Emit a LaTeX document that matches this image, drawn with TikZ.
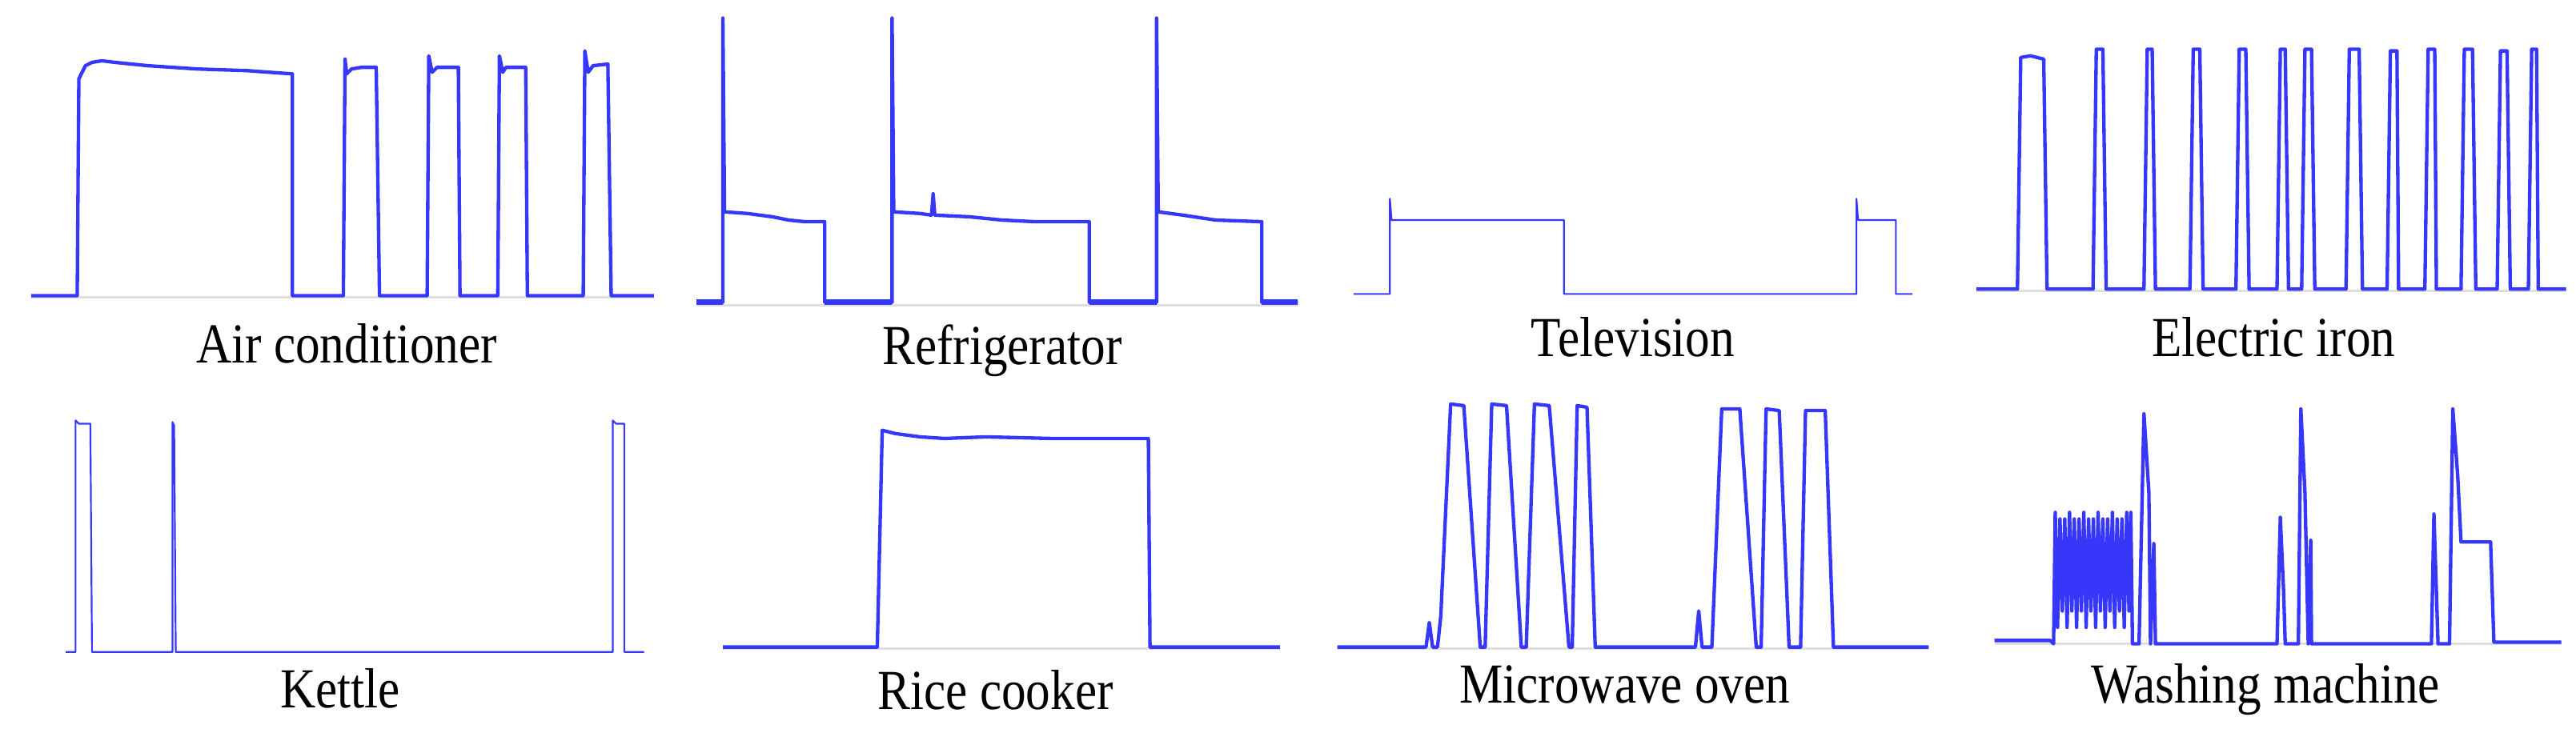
\documentclass[tikz,border=0pt]{standalone}
\usepackage{fontspec}
\setmainfont{Liberation Serif}
\definecolor{sig}{RGB}{55,55,250}
\newcommand{\tallt}[1]{\scalebox{0.97}[1.12]{#1}}
\begin{document}
\begin{tikzpicture}[x=0.02cm,y=-0.02cm,
  thk/.style={sig,line width=1.2pt,line join=round},
  thn/.style={sig,line width=0.6pt,line join=round},
  base/.style={gray!25,line width=0.8pt},
  lab/.style={font=\fontsize{17.5}{20}\selectfont,anchor=base,inner sep=0pt}]
\useasboundingbox (0,0) rectangle (1568,456);
% Air conditioner
\draw[base] (19,181) -- (398,181);
\draw[thk] (19,180) -- (47,180) -- (48,48) -- (50,44) -- (52,40) -- (56,38) -- (62,37) -- (70,38) -- (90,40) -- (120,42) -- (150,43) -- (178,45) -- (178,180) -- (209,180) -- (210,36) -- (211,45) -- (214,42) -- (220,41) -- (229,41) -- (231,180) -- (260,180) -- (261,34) -- (263,44) -- (266,41) -- (279,41) -- (280,180) -- (303,180) -- (304,34) -- (306,44) -- (308,41) -- (320,41) -- (321,180) -- (355,180) -- (356,31) -- (358,44) -- (361,40) -- (370,39) -- (372,180) -- (398,180);
\node[lab] (ac) at (211,221) {\tallt{Air conditioner}};
% Refrigerator
\draw[base] (424,186) -- (790,186);
\draw[sig,line width=2pt] (424,184) -- (440,184) (502,184) -- (543,184) (663,184) -- (704,184) (768,184) -- (790,184);
\draw[thk] (424,184) -- (440,184) -- (440,11) -- (441,129) -- (455,130) -- (470,132) -- (480,134) -- (490,135) -- (502,135) -- (502,184) -- (543,184) -- (543,11) -- (544,129) -- (560,130) -- (567,131) -- (568,118) -- (569,131) -- (590,132) -- (610,134) -- (630,135) -- (663,135) -- (663,184) -- (704,184) -- (704,11) -- (705,129) -- (720,131) -- (740,134) -- (768,135) -- (768,184) -- (790,184);
\node[lab] (rf) at (610,222) {\tallt{Refrigerator}};
% Television
\draw[thn] (824,179) -- (846,179) -- (846,121) -- (847,134) -- (952,134) -- (952,179) -- (1130,179) -- (1130,121) -- (1131,134) -- (1154,134) -- (1154,179) -- (1164,179);
\node[lab] (tv) at (994,217) {\tallt{Television}};
% Electric iron
\draw[base] (1203,177) -- (1562,177);
\draw[thk] (1203,176) -- (1228,176) -- (1230,35) -- (1236,34) -- (1244,36) -- (1246,176)
 -- (1274,176) -- (1276,30) -- (1280,30) -- (1282,176)
 -- (1305,176) -- (1307,30) -- (1310,30) -- (1312,176)
 -- (1333,176) -- (1335,30) -- (1339,30) -- (1341,176)
 -- (1361,176) -- (1363,30) -- (1367,30) -- (1369,176)
 -- (1386,176) -- (1388,30) -- (1391,30) -- (1393,176)
 -- (1401,176) -- (1403,30) -- (1407,30) -- (1409,176)
 -- (1428,176) -- (1430,30) -- (1436,30) -- (1438,176)
 -- (1453,176) -- (1455,31) -- (1459,31) -- (1460,176)
 -- (1476,176) -- (1478,30) -- (1482,30) -- (1483,176)
 -- (1498,176) -- (1500,30) -- (1505,30) -- (1507,176)
 -- (1520,176) -- (1522,31) -- (1526,31) -- (1528,176)
 -- (1539,176) -- (1541,30) -- (1544,30) -- (1545,176) -- (1562,176);
\node[lab] (ei) at (1384,217) {\tallt{Electric iron}};
% Kettle
\draw[thn] (40,397) -- (46,397) -- (46,256) -- (48,258) -- (55,258) -- (56,397) -- (105,397) -- (105,257) -- (106,259) -- (107,397) -- (373,397) -- (373,256) -- (375,258) -- (380,258) -- (380,397) -- (392,397);
\node[lab] (kt) at (207,431) {\tallt{Kettle}};
% Rice cooker
\draw[base] (440,395) -- (779,395);
\draw[thk] (440,394) -- (534,394) -- (537,262) -- (545,264) -- (560,266) -- (575,267) -- (600,266) -- (640,267) -- (699,267) -- (700,394) -- (779,394);
\node[lab] (rc) at (606,432) {\tallt{Rice cooker}};
% Microwave oven
\draw[base] (814,395) -- (1174,395);
\draw[thk] (814,394) -- (868,394) -- (870,379) -- (872,394) -- (875,394) -- (877,375) -- (883,246) -- (891,247) -- (901,394) -- (904,394) -- (908,246) -- (917,247) -- (926,394) -- (929,394) -- (934,246) -- (943,247) -- (955,394) -- (957,394) -- (960,247) -- (966,248) -- (971,394)
 -- (1032,394) -- (1034,372) -- (1036,394) -- (1042,394) -- (1048,249) -- (1059,249) -- (1069,394) -- (1072,394) -- (1075,249) -- (1083,250) -- (1089,394) -- (1096,394) -- (1099,250) -- (1111,250) -- (1116,394) -- (1174,394);
\node[lab] (mw) at (989,428) {\tallt{Microwave oven}};
% Washing machine
\draw[base] (1214,392) -- (1559,392);
\draw[thk] (1214,390) -- (1248,390) -- (1250,392)
 \foreach \i in {0,...,15} { -- ({1251+\i*2.9},{mod(\i,3)==0 ? 312 : 316}) -- ({1252.4+\i*2.9},{mod(\i,2)==0 ? 382 : 372}) }
 -- (1297,312) -- (1298,392) -- (1302,392) -- (1305,252) -- (1308,300) -- (1309,392) -- (1311,331) -- (1312,392)
 -- (1386,392) -- (1388,315) -- (1390,360) -- (1391,392) -- (1399,392) -- (1400.5,249) -- (1403,300) -- (1405,392) -- (1406.5,329) -- (1407,392)
 -- (1480,392) -- (1481.5,313) -- (1483,360) -- (1484,392) -- (1491,392) -- (1493,249) -- (1496,290) -- (1498,330) -- (1516,330) -- (1518,391) -- (1559,391);
\node[lab] (wm) at (1379,428) {\tallt{Washing machine}};
\end{tikzpicture}
\end{document}
